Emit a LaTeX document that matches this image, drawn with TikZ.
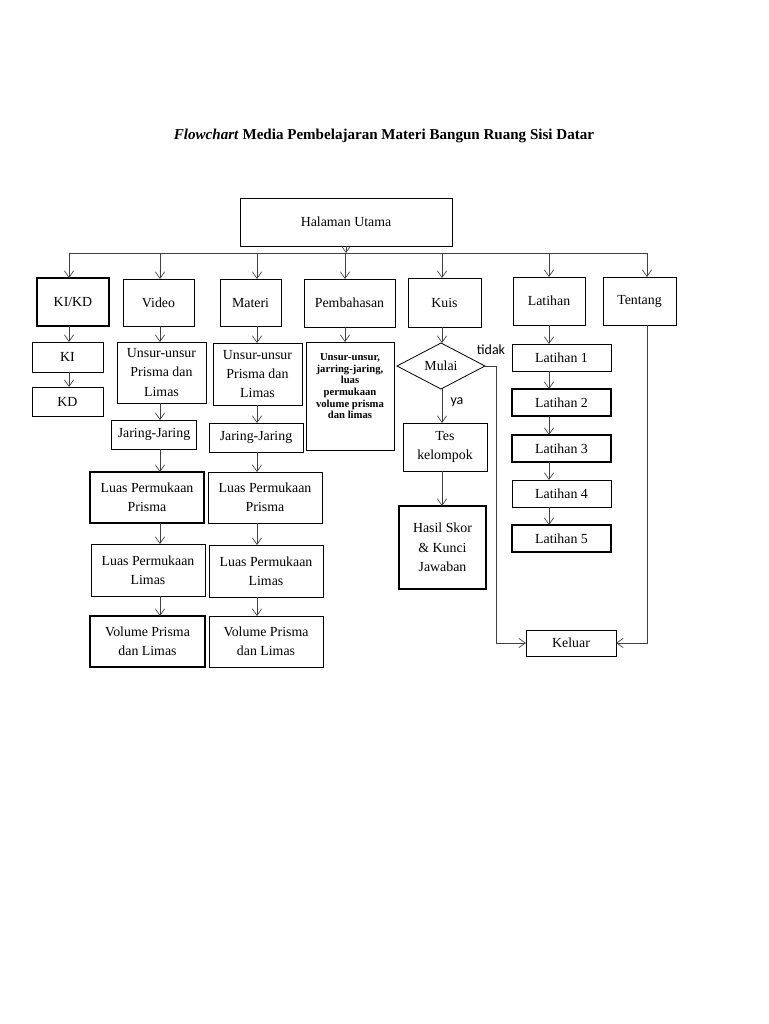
\documentclass[tikz,border=0pt]{standalone}
\usepackage{fontspec}
\setmainfont{Liberation Serif}
\newfontfamily\labelfont{Carlito}
\usetikzlibrary{shapes.geometric,arrows.meta}

\begin{document}
\begin{tikzpicture}[x=0.75pt, y=-0.75pt, font=\fontsize{10.4}{14.5}\selectfont,
        every node/.style={outer sep=0pt, inner sep=1pt, align=center},
        kotak/.style 2 args={draw, line width=0.6pt, minimum width=#1*0.75pt, minimum height=#2*0.75pt},
        tebal/.style={line width=1.2pt},
        panah/.style={-{Straight Barb[length=5pt,width=7pt]}, line width=0.5pt, draw=black!75},
        garis/.style={line width=0.5pt, draw=black!75},
        ket/.style={font=\labelfont\fontsize{10.5}{12}\selectfont}]
        \fill[white] (0,0) rectangle (768,1024);

        \node (judul) at (384,136) {\fontsize{11.3}{14}\selectfont\bfseries\textit{Flowchart} Media Pembelajaran Materi Bangun Ruang Sisi Datar};

        \node[kotak={212}{48}] (utama) at (346,222) {Halaman Utama};

        % menu utama
        \node[kotak={72}{48}, tebal] (kikd) at (73,302) {KI/KD};
        \node[kotak={71}{47}] (video) at (158.5,302.5) {Video};
        \node[kotak={61}{47}] (materi) at (250.5,302.5) {Materi};
        \node[kotak={91}{48}] (bahas) at (349.5,303) {Pembahasan};
        \node[kotak={73}{49}] (kuis) at (444.5,302.5) {Kuis};
        \node[kotak={72}{48}] (latihan) at (549,301) {Latihan};
        \node[kotak={73}{48}] (tentang) at (639.5,301) {Tentang};

        % KI/KD
        \node[kotak={71}{30}] (ki) at (67.5,357) {KI};
        \node[kotak={71}{29}] (kd) at (67.5,401.5) {KD};

        % video
        \node[kotak={89}{61}] (vunsur) at (161.5,372.5) {Unsur-unsur\\Prisma dan\\Limas};
        \node[kotak={85}{29}] (vjaring) at (154,434.5) {Jaring-Jaring};
        \node[kotak={114}{51}, tebal] (vluasp) at (147,497.5) {Luas Permukaan\\Prisma};
        \node[kotak={114}{52}] (vluasl) at (148,570) {Luas Permukaan\\Limas};
        \node[kotak={115}{51}, tebal] (vvol) at (147.5,641.5) {Volume Prisma\\dan Limas};

        % materi
        \node[kotak={89}{62}] (munsur) at (257.5,374) {Unsur-unsur\\Prisma dan\\Limas};
        \node[kotak={94}{29}] (mjaring) at (256,437.5) {Jaring-Jaring};
        \node[kotak={114}{51}] (mluasp) at (265,497.5) {Luas Permukaan\\Prisma};
        \node[kotak={114}{52}] (mluasl) at (266,571) {Luas Permukaan\\Limas};
        \node[kotak={114}{51}] (mvol) at (266,641.5) {Volume Prisma\\dan Limas};

        % pembahasan
        \node[kotak={88}{108}, font=\fontsize{8}{8.8}\selectfont\bfseries] (bsub) at (350,396) {Unsur-unsur,\\jarring-jaring,\\luas\\permukaan\\volume prisma\\dan limas\\[6pt]};

        % kuis
        \node[diamond, draw, line width=0.6pt, aspect=2, inner sep=0pt, minimum width=88*0.75pt, minimum height=46*0.75pt] (mulai) at (441,366) {Mulai};
        \node[kotak={84}{48}] (tes) at (445,447) {Tes\\kelompok};
        \node[kotak={87}{83}, tebal] (hasil) at (442.5,547.5) {Hasil Skor\\\& Kunci\\Jawaban};

        % latihan
        \foreach \i/\y/\t in {1/357.5/0.6, 2/402.5/1.2, 3/448.5/1.2, 4/493.5/0.6, 5/538.5/1.2}
            \node[kotak={99}{27}, line width=\t pt] (lat\i) at (561.5,\y) {Latihan \i};

        \node[kotak={90}{26}] (keluar) at (571,643) {Keluar};

        \node[ket] (tidak) at (491,350) {tidak};
        \node[ket] (ya) at (457,402) {ya};

        % garis percabangan
        \foreach \n/\x in {kikd/69, video/160, materi/257, bahas/345, kuis/442, latihan/549, tentang/647}
            \coordinate (k\n) at (\x,253);
        \coordinate (ktidak) at (496,366);

        \draw[garis] (kkikd) -- (ktentang);
        \draw[panah] (utama.south) -- (utama.south |- kkikd);
        \foreach \n in {kikd,video,materi,bahas,kuis,latihan,tentang}
            \draw[panah] (k\n) -- (k\n |- \n.north);

        \foreach \a/\b in {kikd/ki, ki/kd}
            \draw[panah] (kkikd |- \a.south) -- (kkikd |- \b.north);
        \foreach \a/\b in {video/vunsur, vunsur/vjaring, vjaring/vluasp, vluasp/vluasl, vluasl/vvol}
            \draw[panah] (kvideo |- \a.south) -- (kvideo |- \b.north);
        \foreach \a/\b in {materi/munsur, munsur/mjaring, mjaring/mluasp, mluasp/mluasl, mluasl/mvol}
            \draw[panah] (kmateri |- \a.south) -- (kmateri |- \b.north);
        \draw[panah] (kbahas |- bahas.south) -- (kbahas |- bsub.north);
        \foreach \a/\b in {kuis/mulai, mulai/tes, tes/hasil}
            \draw[panah] (kkuis |- \a.south) -- (kkuis |- \b.north);
        \foreach \a/\b in {latihan/lat1, lat1/lat2, lat2/lat3, lat3/lat4, lat4/lat5}
            \draw[panah] (klatihan |- \a.south) -- (klatihan |- \b.north);

        % ke keluar
        \draw[panah] (mulai.east) -- (ktidak) |- (keluar.west);
        \draw[panah] (ktentang |- tentang.south) |- (keluar.east);
    \end{tikzpicture}
\end{document}
